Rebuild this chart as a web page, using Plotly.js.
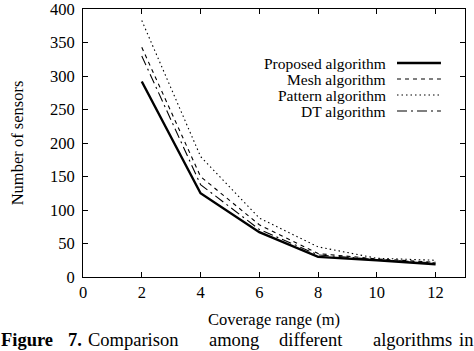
<!DOCTYPE html>
<html>
<head>
<meta charset="utf-8">
<script src="https://cdn.plot.ly/plotly-3.0.1.min.js"></script>
<style>html,body{margin:0;padding:0;background:#fff;}#chart{width:474px;height:351px;}</style>
</head>
<body>
<div id="chart"></div>
<script>
// Data
var coverageRange = [2, 4, 6, 8, 10, 12];
var proposedAlg = [292, 125, 67, 30, 25, 19];
var meshAlg     = [343, 150, 78, 35, 27, 22];
var patternAlg  = [383, 180, 88, 45, 28, 25];
var dtAlg       = [330, 138, 71, 33, 26, 21];
var seriesNames = ["Proposed algorithm", "Mesh algorithm", "Pattern algorithm", "DT algorithm"];
var xTicks = [0, 2, 4, 6, 8, 10, 12];
var yTicks = [0, 50, 100, 150, 200, 250, 300, 350, 400];
var captionWords = ["Figure", "7.", "Comparison", "among", "different", "algorithms", "in"];

var FONT = "Liberation Serif";
var series = [proposedAlg, meshAlg, patternAlg, dtAlg];
var styles = [
  {width: 2.4, dash: "solid"},
  {width: 1.1, dash: "4px,4px"},
  {width: 1.1, dash: "1.5px,3px"},
  {width: 1.1, dash: "10px,4px,2px,4px"}
];

var traces = series.map(function (ys, i) {
  return {
    x: coverageRange, y: ys, type: "scatter", mode: "lines",
    name: seriesNames[i], showlegend: false,
    line: {color: "#000", width: styles[i].width, dash: styles[i].dash}
  };
});

// gnuplot-style legend: right-aligned text with sample line to its right
var PT = 9, PB = 277, PH = PB - PT;
function py(pix) { return (PB - pix) / PH; }
var legendRows = [63, 79, 95, 111];
var shapes = [];
var annotations = [];
seriesNames.forEach(function (n, i) {
  annotations.push({
    xref: "paper", yref: "paper", x: 0.797, y: py(legendRows[i]),
    xanchor: "right", yanchor: "middle", showarrow: false, borderpad: 0,
    text: n, font: {family: FONT, size: 15.5, color: "#000"}
  });
  shapes.push({
    type: "line", xref: "paper", yref: "paper",
    x0: 0.822, x1: 0.937, y0: py(legendRows[i]), y1: py(legendRows[i]),
    line: {color: "#000", width: styles[i].width, dash: styles[i].dash}
  });
});

// caption (justified words)
var captionX = [0, 67, 87, 208, 278, 372, 458];
captionWords.forEach(function (w, i) {
  annotations.push({
    xref: "paper", yref: "paper", x: (captionX[i] - 83) / 382, y: py(340),
    xanchor: "left", yanchor: "middle", showarrow: false, borderpad: 0,
    text: i < 2 ? "<b>" + w + "</b>" : w,
    font: {family: FONT, size: 18.5, color: "#000"}
  });
});

var axisCommon = {
  showgrid: false, zeroline: false, showline: true, linecolor: "#000", linewidth: 1,
  mirror: "ticks", ticks: "inside", ticklen: 5, tickwidth: 1, tickcolor: "#000",
  ticklabeloverflow: "allow",
  tickfont: {family: FONT, size: 16.5, color: "#000"}
};

var layout = {
  width: 474, height: 351,
  margin: {l: 83, r: 9, t: PT, b: 351 - PB},
  paper_bgcolor: "#fff", plot_bgcolor: "#fff",
  font: {family: FONT, color: "#000"},
  xaxis: Object.assign({}, axisCommon, {
    range: [0, 13], tickvals: xTicks, ticktext: xTicks.map(String),
    title: {text: "Coverage range (m)", font: {family: FONT, size: 16.5, color: "#000"}, standoff: 12}
  }),
  yaxis: Object.assign({}, axisCommon, {
    range: [0, 400.2], tickvals: yTicks, ticktext: yTicks.map(String), ticklabelstandoff: 4,
    title: {text: "Number of sensors", font: {family: FONT, size: 16.5, color: "#000"}, standoff: 22}
  }),
  shapes: shapes,
  annotations: annotations
};

Plotly.newPlot("chart", traces, layout, {staticPlot: true, displayModeBar: false});
</script>
</body>
</html>
